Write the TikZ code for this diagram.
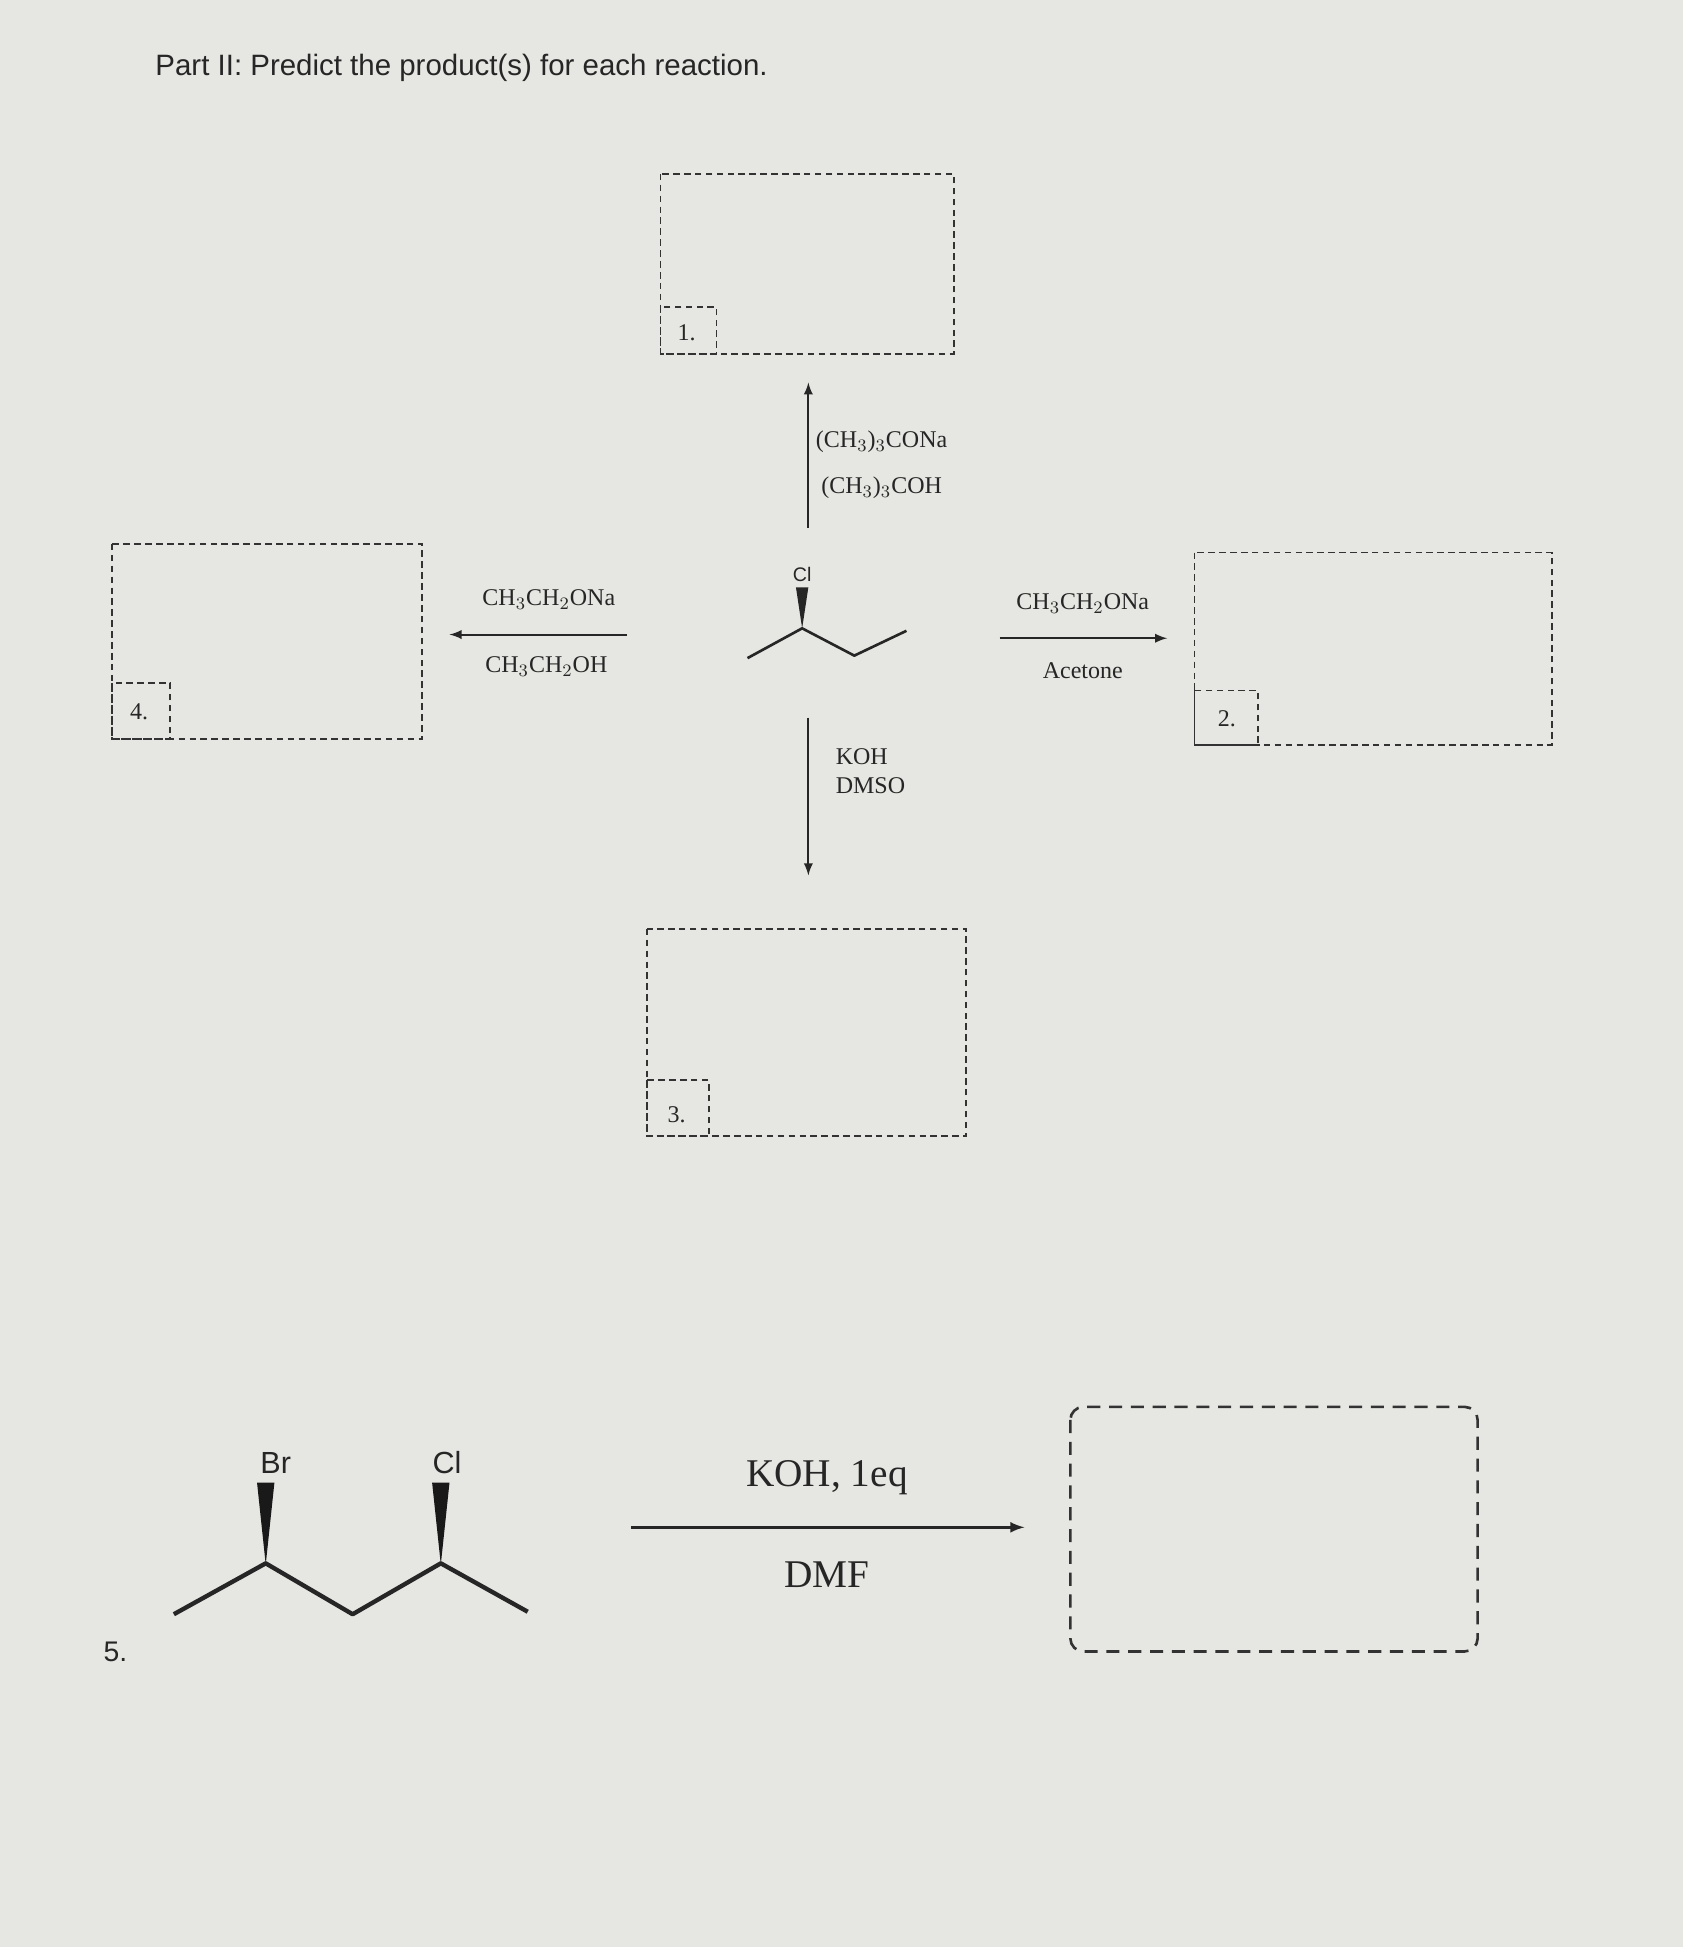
\documentclass[tikz,border=0pt]{standalone}
\usepackage{fontspec}
\setmainfont{Liberation Serif}
\newfontfamily\sansf{Liberation Sans}
\begin{document}
\begin{tikzpicture}[x=0.02cm,y=-0.02cm,
  dbox/.style={draw=black!80,dashed,line width=0.8pt,dash pattern=on 3pt off 2pt},
  rxn/.style={draw=black!85,line width=0.9pt,-latex},
  reag/.style={font=\fontsize{11}{13}\selectfont,text=black!85,inner sep=1pt},
  bond/.style={draw=black!85,line width=1.5pt,line join=round}]
\fill[fill={rgb,255:red,230;green,230;blue,226}] (0,0) rectangle (1355,1568);
\useasboundingbox (0,0) rectangle (1355,1568);
\node[anchor=west,font=\sansf\fontsize{13.5}{16}\selectfont,text=black!85] (title) at (119,55) {Part II: Predict the product(s) for each reaction.};
% box 1
\draw[dbox] (532,140) rectangle (768,285);
\draw[dbox] (532,247) rectangle (577,285);
\node[reag] (n1) at (553,268) {1.};
% box 4
\draw[dbox] (90,438) rectangle (340,595);
\draw[dbox] (90,550) rectangle (137,595);
\node[reag] (n4) at (112,573) {4.};
% box 2
\draw[dbox] (962,445) rectangle (1250,600);
\draw[dbox] (962,556) rectangle (1013,600);
\node[reag] (n2) at (988,579) {2.};
% box 3
\draw[dbox] (521,748) rectangle (778,915);
\draw[dbox] (521,870) rectangle (571,915);
\node[reag] (n3) at (545,898) {3.};
% central molecule
\node[font=\sansf\fontsize{9}{10}\selectfont,text=black!85,inner sep=0pt] (cl) at (646,463) {Cl};
\coordinate (c2) at (646,506);
\fill[black!85] (646,506) -- (641,473) -- (651,473) -- cycle;
\draw[bond,line width=1.2pt] (602,530) -- (c2) -- (688,528) -- (730,508);
% arrows
\coordinate (uA) at (651,425); \coordinate (uB) at (651,308);
\draw[rxn] (uA) -- (uB);
\node[reag] (r1a) at (710,356) {(CH$_3$)$_3$CONa};
\node[reag] (r1b) at (710,393) {(CH$_3$)$_3$COH};
\coordinate (lA) at (505,511); \coordinate (lB) at (362,511);
\draw[rxn] (lA) -- (lB);
\node[reag] (r4a) at (442,483) {CH$_3$CH$_2$ONa};
\node[reag] (r4b) at (440,537) {CH$_3$CH$_2$OH};
\coordinate (rA) at (805,514); \coordinate (rB) at (940,514);
\draw[rxn] (rA) -- (rB);
\node[reag] (r2a) at (872,486) {CH$_3$CH$_2$ONa};
\node[reag] (r2b) at (872,540) {Acetone};
\coordinate (dA) at (651,578); \coordinate (dB) at (651,705);
\draw[rxn] (dA) -- (dB);
\node[reag,align=left] (r3) at (701,621) {KOH\\DMSO};
% part 5
\node[font=\sansf\fontsize{13}{15}\selectfont,text=black!85] (five) at (93,1330) {5.};
\node[font=\sansf\fontsize{14}{16}\selectfont,text=black!85,inner sep=0pt] (br) at (222,1178) {Br};
\node[font=\sansf\fontsize{14}{16}\selectfont,text=black!85,inner sep=0pt] (cl5) at (360,1178) {Cl};
\fill[black!90] (214,1260) -- (207,1194) -- (221,1194) -- cycle;
\fill[black!90] (355,1260) -- (348,1194) -- (362,1194) -- cycle;
\draw[bond,line width=2pt] (140,1300) -- (214,1259) -- (284,1300) -- (355,1259) -- (425,1298);
\coordinate (fA) at (508,1230); \coordinate (fB) at (825,1230);
\draw[rxn,line width=1.2pt] (fA) -- (fB);
\node[reag,font=\fontsize{18}{20}\selectfont] (r5a) at (666,1190) {KOH, 1eq};
\node[reag,font=\fontsize{18}{20}\selectfont] (r5b) at (666,1268) {DMF};
\draw[dbox,rounded corners=6pt,line width=1.2pt,dash pattern=on 6pt off 4pt] (862,1133) rectangle (1190,1330);
\end{tikzpicture}
\end{document}
